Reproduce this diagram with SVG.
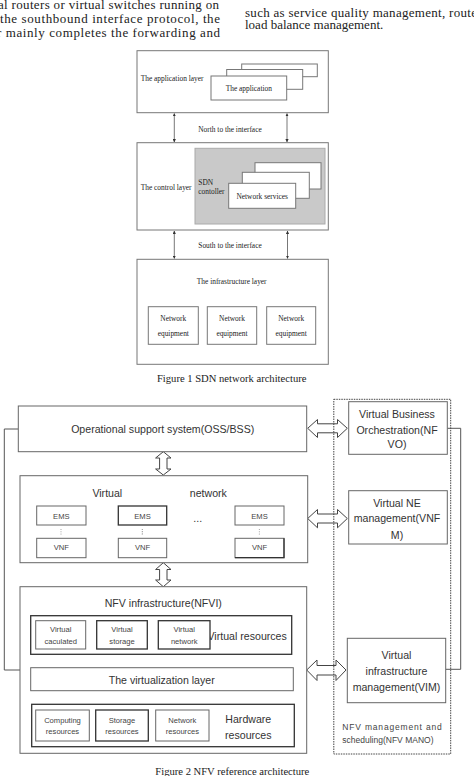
<svg xmlns="http://www.w3.org/2000/svg" width="474" height="776" viewBox="0 0 474 776">
<defs>
<style>
.body{font-family:"Liberation Serif","Times New Roman",serif;font-size:13px;fill:#222}
.cap{font-family:"Liberation Serif","Times New Roman",serif;font-size:10.6px;fill:#222;text-anchor:middle}
.s1{font-family:"Liberation Serif","Times New Roman",serif;font-size:7.4px;fill:#222}
.m{text-anchor:middle}
.b1{fill:#fff;stroke:#777;stroke-width:1}
.gray{fill:#c9c9c9;stroke:#aaa;stroke-width:1}
.ln{stroke:#555;stroke-width:0.8;fill:none}
.f2{font-family:"Liberation Sans",Arial,sans-serif;font-size:10.6px;fill:#333}
.f2s{font-family:"Liberation Sans",Arial,sans-serif;font-size:7.6px;fill:#444}
.b2{fill:#fff;stroke:#666;stroke-width:1}
.b2d{fill:#fff;stroke:#333;stroke-width:1.3}
.ha{fill:#fff;stroke:#444;stroke-width:1}
.c2{fill:none;stroke:#555;stroke-width:1}
.dash{fill:none;stroke:#444;stroke-width:1;stroke-dasharray:1.5,1}
</style>
<marker id="ah" viewBox="0 0 6 6" refX="5.5" refY="3" markerWidth="4" markerHeight="4" orient="auto-start-reverse">
<path d="M0,0 L6,3 L0,6 z" fill="#333"/>
</marker>
</defs>
<rect width="474" height="776" fill="#fff"/>

<g id="body-text">
<text class="body" x="-2" y="9" textLength="221" lengthAdjust="spacing">al routers or virtual switches running on</text>
<text class="body" x="0" y="23" textLength="220" lengthAdjust="spacing">the southbound interface protocol, the</text>
<text class="body" x="-3" y="37" textLength="223" lengthAdjust="spacing">r mainly completes the forwarding and</text>
<text class="body" x="245" y="16.7" textLength="232" lengthAdjust="spacing">such as service quality management, route</text>
<text class="body" x="245" y="29">load balance management.</text>
</g>

<!-- Figure 1 -->
<g id="fig1-connectors">
<line class="ln" x1="174.3" y1="113.5" x2="174.3" y2="142" marker-start="url(#ah)" marker-end="url(#ah)"/>
<line class="ln" x1="287" y1="113.5" x2="287" y2="142" marker-start="url(#ah)" marker-end="url(#ah)"/>
<line class="ln" x1="174.3" y1="231" x2="174.3" y2="258.5" marker-start="url(#ah)" marker-end="url(#ah)"/>
<line class="ln" x1="287.5" y1="231" x2="287.5" y2="258.5" marker-start="url(#ah)" marker-end="url(#ah)"/>
<text class="s1 m" x="230" y="131.5">North to the interface</text>
<text class="s1 m" x="230" y="248.3">South to the interface</text>
</g>

<g id="app-layer">
<rect class="b1" x="137" y="50.7" width="191.3" height="62"/>
<text class="s1" x="140.7" y="81">The application layer</text>
<rect class="b1" x="241.7" y="64" width="75.6" height="12.7"/>
<rect class="b1" x="226.7" y="69.5" width="76" height="19.8"/>
<rect class="b1" x="211" y="76" width="75.7" height="24"/>
<text class="s1 m" x="248.8" y="91">The application</text>
</g>

<g id="control-layer">
<rect class="b1" x="137" y="142.7" width="191.3" height="87.3"/>
<text class="s1" x="140.7" y="190.3">The control layer</text>
<rect class="gray" x="195" y="148.3" width="130" height="75.7"/>
<text class="s1" x="198.3" y="185.3">SDN</text>
<text class="s1" x="198.3" y="194.3">contoller</text>
<rect class="b1" x="255" y="162.7" width="66" height="26.3"/>
<rect class="b1" x="242.3" y="172.3" width="67" height="26"/>
<rect class="b1" x="228.7" y="183.3" width="67" height="25"/>
<text class="s1 m" x="262.2" y="198.6">Network services</text>
</g>

<g id="infra-layer">
<rect class="b1" x="137" y="259.3" width="191.3" height="105"/>
<text class="s1 m" x="231.7" y="284.3">The infrastructure layer</text>
<rect class="b1" x="148.3" y="306.7" width="50" height="37.6"/>
<text class="s1 m" x="173.3" y="321">Network</text>
<text class="s1 m" x="173.3" y="336">equipment</text>
<rect class="b1" x="207.3" y="306.7" width="49.4" height="37.6"/>
<text class="s1 m" x="232" y="321">Network</text>
<text class="s1 m" x="232" y="336">equipment</text>
<rect class="b1" x="266.7" y="306.7" width="49" height="37.6"/>
<text class="s1 m" x="291.2" y="321">Network</text>
<text class="s1 m" x="291.2" y="336">equipment</text>
</g>
<text class="cap" x="231.7" y="382">Figure 1 SDN network architecture</text>

<!-- Figure 2 -->
<g id="fig2-connectors">
<path class="c2" d="M18.3,429 H4.3 V670 H20"/>
<path class="c2" d="M447.3,428.3 H460.7 V669.3 H445.7"/>
<polygon class="ha" points="163.3,451.7 171,458 167,458 167,469 171,469 163.3,475 155.6,469 159.6,469 159.6,458 155.6,458"/>
<polygon class="ha" points="163.3,562.7 171,569.5 167,569.5 167,580 171,580 163.3,586.7 155.6,580 159.6,580 159.6,569.5 155.6,569.5"/>
<polygon class="ha" points="307.7,428.3 317.5,419.5 317.5,423.8 337.5,423.8 337.5,419.5 347.3,428.3 337.5,437.5 337.5,432.8 317.5,432.8 317.5,437.5"/>
<polygon class="ha" points="307.7,518.5 317.5,509.5 317.5,514 337.5,514 337.5,509.5 347.3,518.5 337.5,527.8 337.5,523 317.5,523 317.5,527.8"/>
<polygon class="ha" points="306.7,670 317,660 317,665.5 336,665.5 336,660 346,670 336,680.5 336,675 317,675 317,680.5"/>
</g>

<g id="oss">
<rect class="b2" x="18.3" y="406" width="288.4" height="45.7"/>
<text class="f2 m" x="162.7" y="432.7">Operational support system(OSS/BSS)</text>
</g>

<g id="virtual-network">
<rect class="b2" x="20" y="475.7" width="287.7" height="87"/>
<text class="f2 m" x="107.3" y="497">Virtual</text>
<text class="f2 m" x="208.3" y="497">network</text>
<rect class="b2" x="36.7" y="506" width="49.3" height="19"/>
<text class="f2s m" x="61.3" y="518.7">EMS</text>
<rect class="b2d" x="118.3" y="506" width="48.4" height="19"/>
<text class="f2s m" x="142.5" y="518.7">EMS</text>
<rect class="b2" x="235" y="506" width="49" height="19"/>
<text class="f2s m" x="259.5" y="518.7">EMS</text>
<text class="f2 m" x="197.7" y="522">...</text>
<g fill="#888">
<circle cx="61" cy="529.5" r="0.5"/><circle cx="61" cy="531.7" r="0.5"/><circle cx="61" cy="533.9" r="0.5"/>
<circle cx="142.3" cy="529.5" r="0.6"/><circle cx="142.3" cy="531.7" r="0.6"/><circle cx="142.3" cy="533.9" r="0.6"/>
<circle cx="259.3" cy="529.5" r="0.5"/><circle cx="259.3" cy="531.7" r="0.5"/><circle cx="259.3" cy="533.9" r="0.5"/>
</g>
<rect class="b2" x="36.7" y="538.3" width="49.3" height="19.4"/>
<text class="f2s m" x="61.3" y="550">VNF</text>
<rect class="b2" x="118.3" y="538.3" width="48.4" height="19.4"/>
<text class="f2s m" x="142.5" y="550">VNF</text>
<rect class="b2" x="235" y="538.3" width="49" height="19.4"/>
<path d="M284,538.3 V557.7 H235" fill="none" stroke="#333" stroke-width="1.3"/>
<text class="f2s m" x="259.5" y="550">VNF</text>
</g>

<g id="nfvi">
<rect class="b2" x="20" y="586.7" width="286.7" height="166.6"/>
<text class="f2 m" x="163.3" y="607">NFV infrastructure(NFVI)</text>
</g>

<g id="virtual-resources">
<rect class="b2d" x="30.7" y="615.7" width="261" height="38.6"/>
<text class="f2" x="207.5" y="639.5">Virtual resources</text>
<rect class="b2" x="35.7" y="620.7" width="50" height="28.3"/>
<text class="f2s m" x="60.7" y="632">Virtual</text>
<text class="f2s m" x="60.7" y="644.4">caculated</text>
<rect class="b2d" x="96.7" y="620.7" width="50.6" height="28.3"/>
<text class="f2s m" x="122" y="632">Virtual</text>
<text class="f2s m" x="122" y="644.4">storage</text>
<rect class="b2d" x="158.3" y="620.7" width="51.7" height="28.3"/>
<text class="f2s m" x="184.2" y="632">Virtual</text>
<text class="f2s m" x="184.2" y="644.4">network</text>
</g>

<g id="virtualization-layer">
<rect class="b2" x="30.7" y="667.7" width="262.6" height="23"/>
<text class="f2 m" x="161.7" y="683.7">The virtualization layer</text>
</g>

<g id="hardware-resources">
<rect class="b2d" x="31.7" y="704.3" width="262.6" height="42.4"/>
<rect class="b2" x="35.7" y="710" width="53.6" height="31"/>
<text class="f2s m" x="62.5" y="722.7">Computing</text>
<text class="f2s m" x="62.5" y="734.4">resources</text>
<rect class="b2d" x="95.7" y="710" width="52.6" height="31"/>
<text class="f2s m" x="122" y="722.7">Storage</text>
<text class="f2s m" x="122" y="734.4">resources</text>
<rect class="b2" x="155.7" y="710" width="53.3" height="31"/>
<text class="f2s m" x="182.3" y="722.7">Network</text>
<text class="f2s m" x="182.3" y="734.4">resources</text>
<text class="f2 m" x="248.3" y="722.7">Hardware</text>
<text class="f2 m" x="248.3" y="738.7">resources</text>
</g>

<g id="vbo">
<rect class="b2" x="348.7" y="401.7" width="98.6" height="52.6"/>
<text class="f2 m" x="397" y="418">Virtual Business</text>
<text class="f2 m" x="397" y="434">Orchestration(NF</text>
<text class="f2 m" x="397" y="448">VO)</text>
</g>

<g id="vnfm">
<rect class="b2" x="348.7" y="490.7" width="98.6" height="53.3"/>
<text class="f2 m" x="397" y="506.5">Virtual NE</text>
<text class="f2 m" x="397" y="522">management(VNF</text>
<text class="f2 m" x="397" y="538.8">M)</text>
</g>

<g id="vim">
<rect class="b2" x="347.3" y="638.3" width="98.4" height="64.4"/>
<text class="f2 m" x="396.5" y="658.8">Virtual</text>
<text class="f2 m" x="396.5" y="674.8">infrastructure</text>
<text class="f2 m" x="396.5" y="691">management(VIM)</text>
</g>

<g id="mano">
<rect class="dash" x="333.8" y="399.3" width="116.9" height="354.7"/>
<text class="f2s" x="342.3" y="730.3" style="font-size:8.5px" textLength="99.4" lengthAdjust="spacing">NFV management and</text>
<text class="f2s" x="342.3" y="743" style="font-size:8.5px">scheduling(NFV MANO)</text>
</g>

<text class="cap" x="232.3" y="774.5">Figure 2 NFV reference architecture</text>
</svg>
